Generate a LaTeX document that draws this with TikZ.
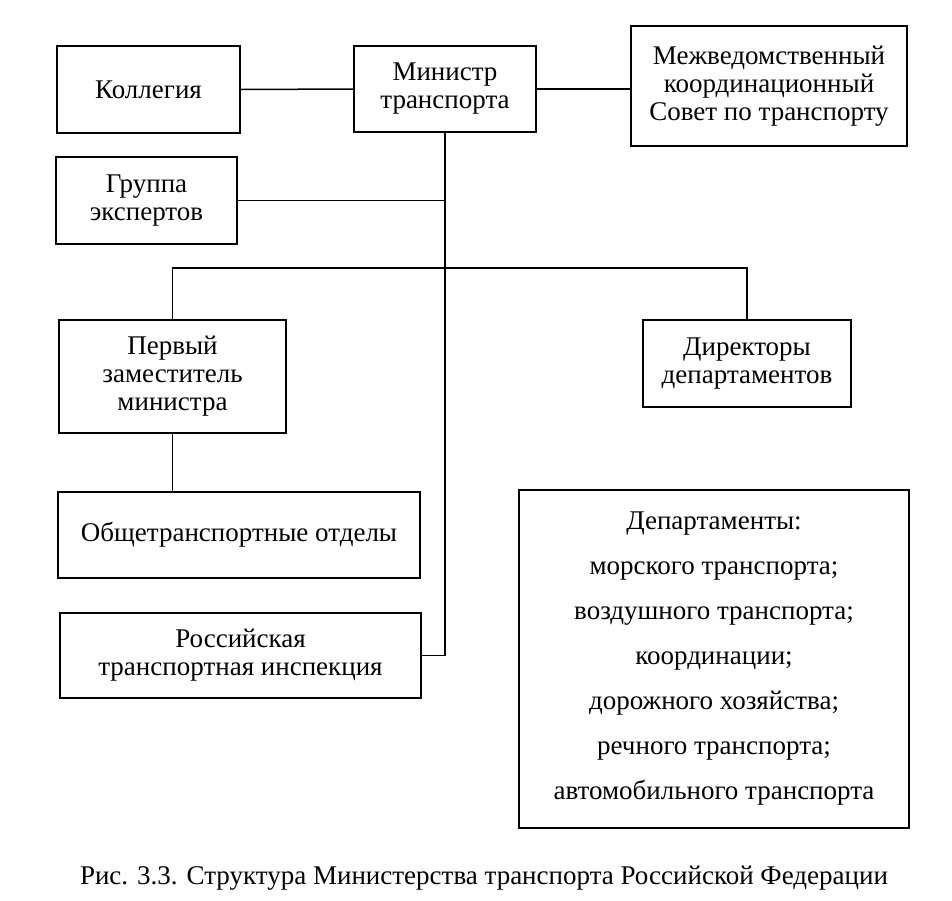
\documentclass[tikz,border=0pt]{standalone}
\usepackage{fontspec}
\setmainfont{Liberation Serif}
\begin{document}
\begin{tikzpicture}[x=1pt,y=-1pt,
  box/.style={draw, line width=1.8pt, rectangle, align=center, inner sep=0pt,
    font=\fontsize{27}{28}\selectfont},
  conn/.style={line width=1.5pt}]
\useasboundingbox[fill=white] (0,0) rectangle (952,900);
\node[box, minimum width=183, minimum height=87] (kol) at (148.5,89.5) {Коллегия};
\node[box, minimum width=182, minimum height=86] (min) at (445,89) {Министр\\транспорта};
\node[box, minimum width=276, minimum height=120] (sov) at (769,86) {Межведомственный\\координационный\\Совет по транспорту};
\node[box, minimum width=181, minimum height=87] (grp) at (146.5,200.5) {Группа\\экспертов};
\node[box, minimum width=227, minimum height=113] (perv) at (172.5,376.5) {Первый\\заместитель\\министра};
\node[box, minimum width=362, minimum height=86] (obs) at (239,535) {Общетранспортные отделы};
\node[box, minimum width=361, minimum height=85] (ros) at (240.5,655.5) {Российская\\транспортная инспекция};
\node[box, minimum width=208, minimum height=87] (dir) at (747,363.5) {Директоры\\департаментов};
\node[box, minimum width=390, minimum height=338,
  font=\fontsize{27}{45}\selectfont] (dep) at (714,659) {Департаменты:\\морского транспорта;\\воздушного транспорта;\\координации;\\дорожного хозяйства;\\речного транспорта;\\автомобильного транспорта};
\node[font=\fontsize{27}{28}\selectfont] (cap) at (484,878) {Рис. 3.3. Структура Министерства транспорта Российской Федерации};
\coordinate (bus) at (446,268);
\draw[conn] (kol.east) -- (min.west);
\draw[conn] (min.east) -- (sov.west |- min.east);
\draw[conn] (min.south) |- (ros.east);
\draw[conn] (grp.east) -- (min.south |- grp.east);
\draw[conn] (perv.north) |- (bus) -| (dir.north);
\draw[conn] (perv.south) -- (perv.south |- obs.north);
\end{tikzpicture}
\end{document}
